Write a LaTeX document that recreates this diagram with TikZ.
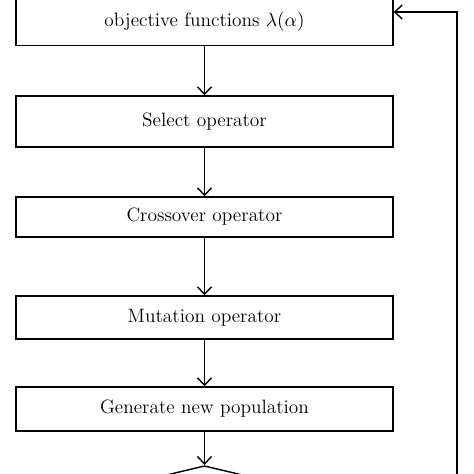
\documentclass[tikz,border=0pt]{standalone}
\usetikzlibrary{arrows.meta,shapes.geometric}

\begin{document}
\begin{tikzpicture}[line width=0.8pt,
  every node/.style={draw,rectangle,minimum width=7.54cm,font=\fontsize{11pt}{13pt}\selectfont},
  flow/.style={-{Straight Barb[length=1.5mm,width=2.8mm]}}]
  \clip (0,0) rectangle (9.48,-9.48);
  \node[minimum height=1.8cm,anchor=south] (0) at (4.09,-0.92) {};
  \node[draw=none,minimum width=0pt] (t0) at (4.09,-0.44) {objective functions $\lambda(\alpha)$};
  \node[minimum height=1.02cm] (1) at (4.09,-2.43) {Select operator};
  \node[minimum height=0.80cm] (2) at (4.09,-4.34) {Crossover operator};
  \node[minimum height=0.86cm] (3) at (4.09,-6.35) {Mutation operator};
  \node[minimum height=0.88cm] (4) at (4.09,-8.18) {Generate new population};
  \node[diamond,minimum width=6.7cm,minimum height=1.6cm,anchor=north] (5) at (4.09,-9.30) {};
  \coordinate (back) at (9.14,-0.24);
  \draw[flow] (0) to (1);
  \draw[flow] (1) to (2);
  \draw[flow] (2) to (3);
  \draw[flow] (3) to (4);
  \draw[flow] (4) to (5);
  \draw[flow] (5.east) -| (back) -- (back -| 0.east);
\end{tikzpicture}
\end{document}
